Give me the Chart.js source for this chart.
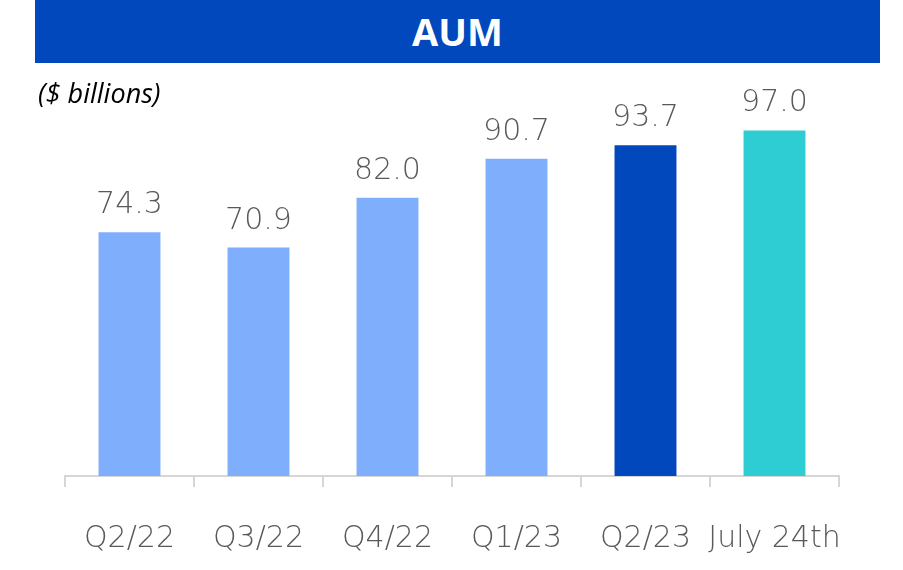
<!DOCTYPE html>
<html lang="en">

<head>
    <meta charset="UTF-8">
    <title>AUM</title>
    <style>
        body { margin: 0; background: #fff; }
        .wrap { position: relative; width: 903px; height: 570px; overflow: hidden; }
        .banner {
            position: absolute; left: 35px; top: 0; width: 845px; height: 63px;
            background: #0048bb; color: #fff; text-align: center;
            font: bold 38px "Open Sans", sans-serif; line-height: 63px;
        }
        .unit {
            position: absolute; left: 38px; top: 74px;
            font: italic 27px "Open Sans", sans-serif; color: #000;
        }
        #myChart01 { position: absolute; left: 0; top: 0; }
    </style>
</head>

<body>
    <div class="wrap">
        <canvas id="myChart01" width="903" height="570"></canvas>
        <div class="banner">AUM</div>
        <div class="unit">($ billions)</div>
    </div>
</body>
<script src="https://cdn.jsdelivr.net/npm/chart.js"></script>
<script>
    var periods = ['Q2/22', 'Q3/22', 'Q4/22', 'Q1/23', 'Q2/23', 'July 24th'];
    var aum = [74.3, 70.9, 82.0, 90.7, 93.7, 97.0];
    var barColors = ['#7faefd', '#7faefd', '#7faefd', '#7faefd', '#0048bb', '#2ecdd3'];

    // value labels on top of bars
    var valueLabels = {
        id: 'valueLabels',
        afterDatasetsDraw: function (chart) {
            var ctx = chart.ctx;
            ctx.save();
            ctx.font = '200 30px "DejaVu Sans"';
            ctx.fillStyle = '#595959';
            ctx.textAlign = 'center';
            ctx.textBaseline = 'alphabetic';
            chart.getDatasetMeta(0).data.forEach(function (bar, i) {
                ctx.fillText(aum[i].toFixed(1), bar.x, bar.y - 19);
            });
            ctx.restore();
        }
    };

    const ctx01 = document.getElementById('myChart01');
    var mychart01 = new Chart(ctx01, {
        type: 'bar',
        data: {
            labels: periods,
            datasets: [{
                data: aum,
                backgroundColor: barColors,
                barPercentage: 0.48,
                categoryPercentage: 1
            }]
        },
        options: {
            responsive: false,
            animation: false,
            layout: { padding: { left: 65, right: 64, top: 117, bottom: 0 } },
            plugins: { legend: { display: false }, tooltip: { enabled: false } },
            scales: {
                y: { display: false, min: 20, max: 100 },
                x: {
                    afterFit: function (s) { s.height = 94; },
                    grid: { offset: true, drawOnChartArea: false, tickLength: 11, color: '#d6d6d6', lineWidth: 2 },
                    border: { color: '#d6d6d6', width: 2 },
                    ticks: {
                        color: '#595959',
                        padding: 34,
                        autoSkip: false,
                        maxRotation: 0,
                        minRotation: 0,
                        font: { family: 'DejaVu Sans', size: 30, weight: 200 }
                    }
                }
            }
        },
        plugins: [valueLabels]
    });
</script>

</html>
